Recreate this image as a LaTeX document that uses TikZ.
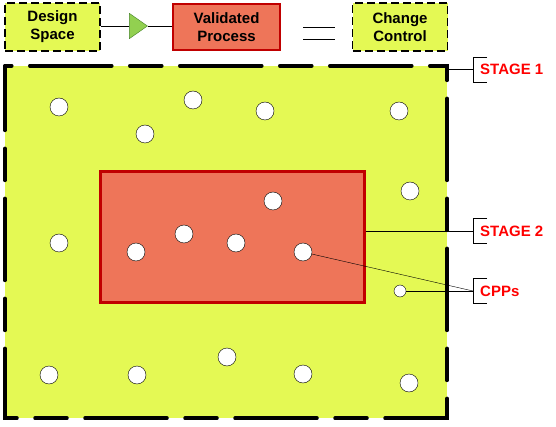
\documentclass[tikz,border=0pt]{standalone}
\usepackage{fontspec}
\setmainfont{Liberation Sans}
\usepackage{xcolor}
\usetikzlibrary{shapes.geometric}

\definecolor{limefill}{RGB}{228,249,84}
\definecolor{salmonfill}{RGB}{238,117,89}
\definecolor{darkred}{RGB}{192,0,0}
\definecolor{arrowgreen}{RGB}{146,208,80}
\definecolor{arrowedge}{RGB}{70,130,40}

\tikzset{
  dashbox/.style = {draw, fill=limefill, line width=1.2pt, dash pattern=on 8pt off 4pt,
                    minimum width=95pt, minimum height=48pt, align=center,
                    font=\fontsize{15}{18}\selectfont\bfseries},
  redbox/.style = {draw=darkred, fill=salmonfill, line width=2.5pt,
                   minimum width=107pt, minimum height=46pt, align=center,
                   font=\fontsize{15}{18}\selectfont\bfseries},
  cpp/.style = {circle, draw, fill=white, thin, inner sep=0pt, minimum size=18pt},
  lbl/.style = {anchor=west, text=red, inner sep=0pt, font=\fontsize{15}{18}\selectfont\bfseries}
}

\newcommand{\lblbracket}[1]{\draw[thin] ([xshift=14pt,yshift=12.5pt]#1) -| ([yshift=-12.5pt]#1) -- ++(14pt,0);}

\begin{document}
\begin{tikzpicture}[x=1pt, y=-1pt]
  \useasboundingbox (0,0) rectangle (556,427);

  \node[dashbox] (ds) at (52.5,27) {Design\\Space};
  \node[redbox] (vp) at (226.5,27) {Validated\\Process};
  \node[dashbox] (cc) at (400,27) {Change\\Control};
  \node[isosceles triangle, isosceles triangle apex angle=70, draw=arrowedge, fill=arrowgreen,
        inner sep=0pt, minimum height=18pt, minimum width=20pt] (tri) at (136,26) {};
  \draw (ds.east |- tri) -- (tri.west);
  \draw (tri.apex) -- (vp.west |- tri);
  \coordinate (eqa) at (303,27); \coordinate (eqb) at (335,27);
  \draw ([yshift=0pt]eqa) -- ([yshift=0pt]eqb);
  \draw ([yshift=-12pt]eqa) -- ([yshift=-12pt]eqb);

  % stage 1
  \node[fill=limefill, inner sep=0pt, minimum width=442pt, minimum height=352pt] (stage1) at (226,242) {};
  \draw[line width=3.5pt, line cap=round, dash pattern=on 82pt off 18pt on 32pt off 18pt, dash phase=125pt]
    (stage1.north west) -- (stage1.north east) -- (stage1.south east) -- (stage1.south west) -- cycle;

  % stage 2
  \node[draw=darkred, fill=salmonfill, line width=3pt, inner sep=0pt,
        minimum width=264pt, minimum height=130pt] (stage2) at (232,237) {};

  \foreach \n/\p in {1/{(59,107)}, 2/{(193,100)}, 3/{(265,111)}, 4/{(399,111)}, 5/{(145,134)},
                     6/{(410,191)}, 7/{(273,201)}, 8/{(59,243)}, 9/{(136,252)}, 10/{(184,234)},
                     11/{(236,243)}, 12/{(303,252)}, 13/{(49,375)}, 14/{(137,375)},
                     15/{(227,357)}, 16/{(303,374)}, 17/{(409,383)}}
    \node[cpp] (c\n) at \p {};
  \node[cpp, minimum size=12pt] (c18) at (400,291) {};

  \coordinate (b1) at (473,69.5);
  \coordinate (b2) at (473,231);
  \coordinate (b3) at (473,291);
  \lblbracket{b1} \lblbracket{b2} \lblbracket{b3}
  \node[lbl] (st1) at (480,69.5) {STAGE 1};
  \node[lbl] (st2) at (480,231) {STAGE 2};
  \node[lbl] (cpps) at (480,291) {CPPs};

  \draw (stage1.east |- b1) -- (b1);
  \draw (stage2.east |- b2) -- (b2);
  \draw (c12) -- (b3);
  \draw (c18) -- (b3);
\end{tikzpicture}
\end{document}
